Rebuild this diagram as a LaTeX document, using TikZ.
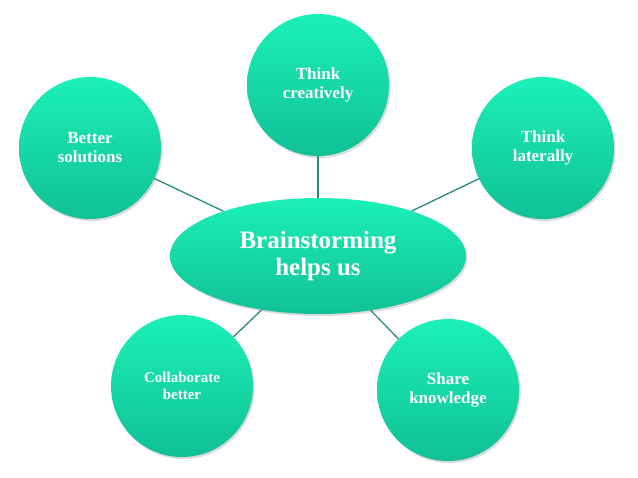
\documentclass[tikz,border=0pt]{standalone}
\usepackage{fontspec}
\setmainfont{Liberation Serif}
\usetikzlibrary{shapes.geometric,shadows}
\definecolor{tlight}{HTML}{1CF0B8}
\definecolor{tdark}{HTML}{10C096}
\definecolor{lnk}{HTML}{2A8C7C}
\begin{document}
\begin{tikzpicture}[x=1pt,y=-1pt,
  bub/.style={circle,minimum size=142pt,inner sep=0pt,top color=tlight,bottom color=tdark,
    drop shadow={shadow xshift=1.5pt,shadow yshift=-2pt,opacity=0.3},text=white,align=center,
    font=\bfseries\fontsize{17}{19}\selectfont},
  lnk/.style={draw=lnk,line width=1.3pt}]
\useasboundingbox (0,0) rectangle (638,478);
\node[ellipse,minimum width=296pt,minimum height=116pt,inner sep=0pt,top color=tlight,bottom color=tdark,
  drop shadow={shadow xshift=1.5pt,shadow yshift=-2pt,opacity=0.3},text=white,align=center,
  font=\bfseries\fontsize{25}{27}\selectfont] (c) at (318,256) {Brainstorming\\helps us};
\node[bub] (t) at (318,85) {Think\\creatively};
\node[bub] (l) at (90,148) {Better\\solutions};
\node[bub] (r) at (543,148) {Think\\laterally};
\node[bub,font=\bfseries\fontsize{15}{17}\selectfont] (bl) at (182,386) {Collaborate\\better};
\node[bub] (br) at (448,390) {Share\\knowledge};
\begin{scope}[on background layer/.style={}]
\end{scope}
\draw[lnk] (c) -- (t);
\draw[lnk] (c) -- (l);
\draw[lnk] (c) -- (r);
\draw[lnk] (c) -- (bl);
\draw[lnk] (c) -- (br);
\end{tikzpicture}
\end{document}
